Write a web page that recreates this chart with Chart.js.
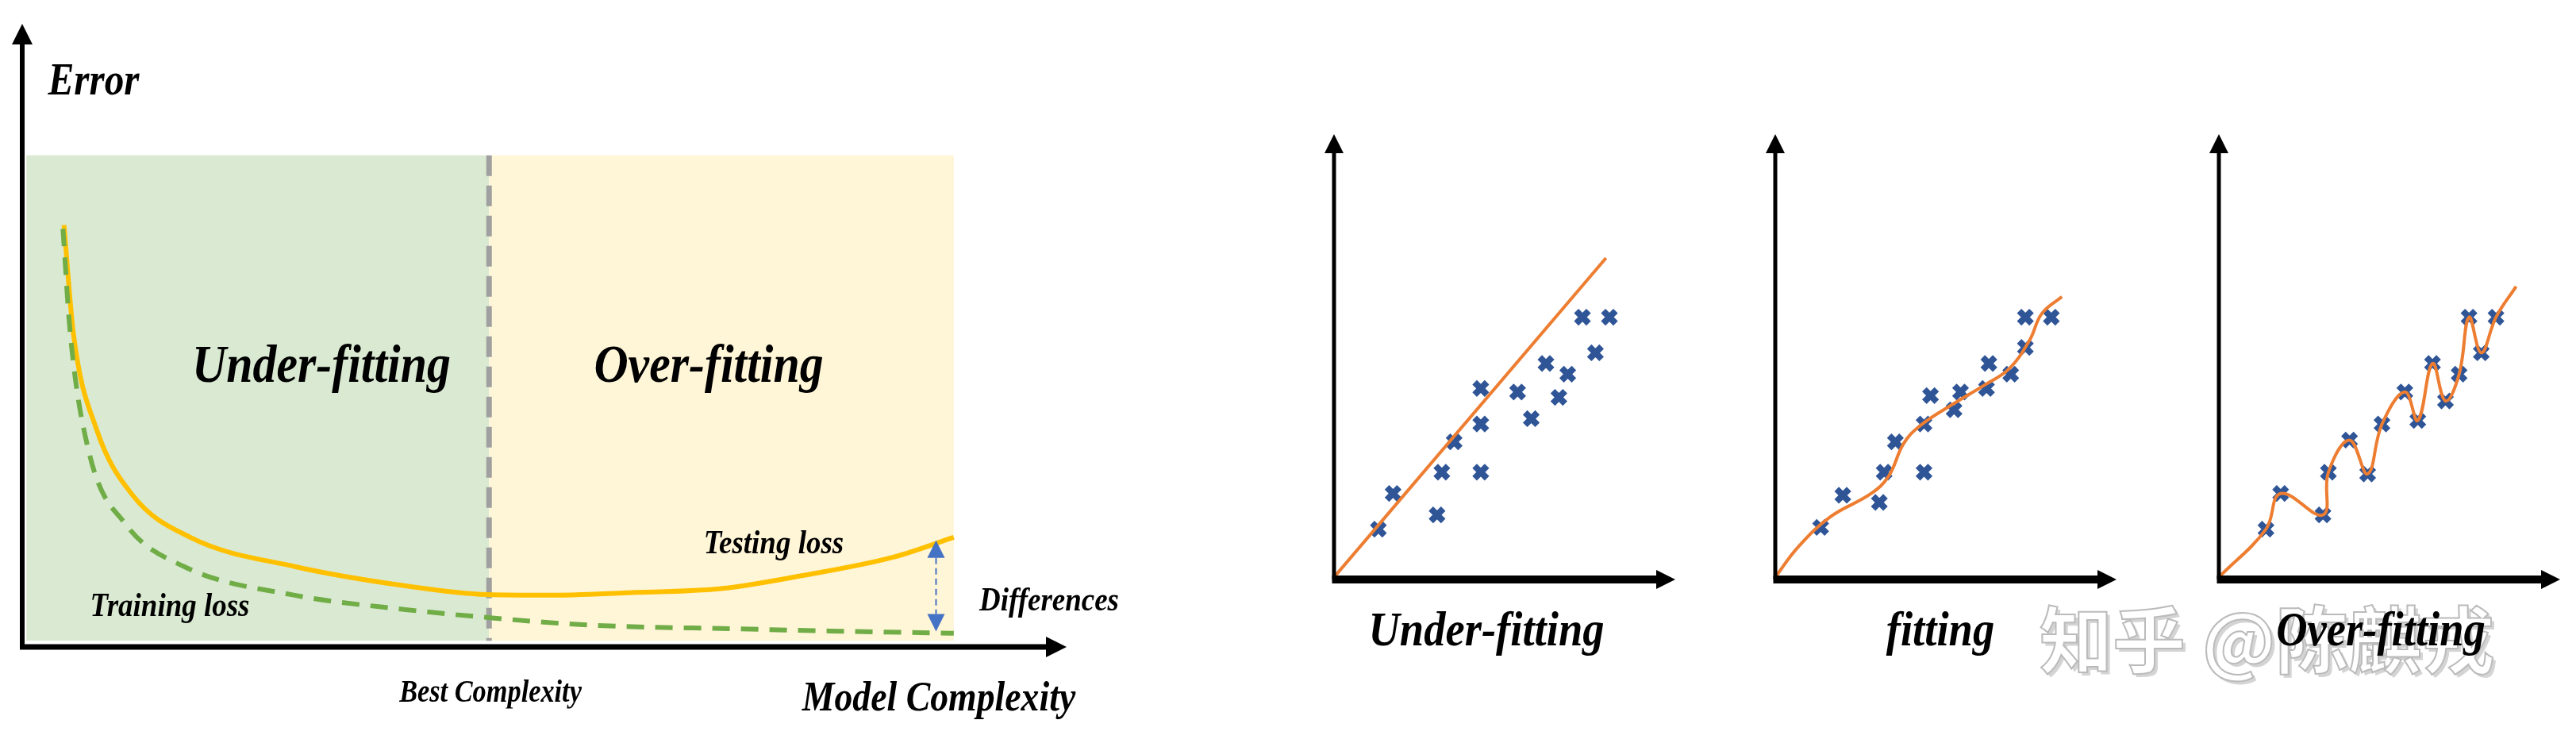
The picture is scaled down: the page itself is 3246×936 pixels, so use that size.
<!DOCTYPE html>
<html>
<head>
<meta charset="utf-8">
<script src="https://cdn.jsdelivr.net/npm/chart.js@4"></script>
<style>
  body { margin: 0; width: 3246px; height: 936px; background: #fff; position: relative; overflow: hidden; font-family: 'Liberation Serif', serif; }
  canvas { position: absolute; }
  .t { position: absolute; font-style: italic; font-weight: bold; color: #000; white-space: nowrap; transform: translate(-50%, -50%) scaleX(0.88); z-index: 2; }
  .wm { position: absolute; font-family: 'Noto Sans CJK SC', sans-serif; font-size: 92px; color: #fff; font-weight: bold;
        -webkit-text-stroke: 2px #bbb; text-shadow: 4px 4px 0 #d4d4d4; white-space: nowrap; transform: translate(0, -50%); z-index: 1; }
</style>
</head>
<body>
<canvas id="main" style="left:0;top:0;width:1400px;height:936px"></canvas>
<canvas id="p1" style="left:1660px;top:150px;width:470px;height:600px"></canvas>
<canvas id="p2" style="left:2216px;top:150px;width:470px;height:600px"></canvas>
<canvas id="p3" style="left:2775px;top:150px;width:470px;height:600px"></canvas>

<div class="wm" style="left:2570px;top:800px">知乎 @陈麒戎</div>
<div class="t" style="left:118px;top:100px;font-size:56px">Error</div>
<div class="t" style="left:405px;top:458px;font-size:68px">Under-fitting</div>
<div class="t" style="left:893px;top:458px;font-size:68px">Over-fitting</div>
<div class="t" style="left:975px;top:683px;font-size:42px">Testing loss</div>
<div class="t" style="left:214px;top:762px;font-size:42px">Training loss</div>
<div class="t" style="left:1322px;top:755px;font-size:42px">Differences</div>
<div class="t" style="left:618px;top:870px;font-size:39px">Best Complexity</div>
<div class="t" style="left:1183px;top:877px;font-size:52px">Model Complexity</div>
<div class="t" style="left:1873px;top:792px;font-size:62px">Under-fitting</div>
<div class="t" style="left:2445px;top:792px;font-size:62px">fitting</div>
<div class="t" style="left:3000px;top:792px;font-size:62px">Over-fitting</div>

<script>
// left chart: error vs model complexity
const testX = [0.40, 0.49, 0.71, 1.06, 1.62, 2.61, 3.67, 4.45, 5.02, 5.79, 6.71, 7.42, 8.34, 8.92];
const testY = [6.77, 5.03, 3.50, 2.43, 1.75, 1.29, 0.98, 0.84, 0.83, 0.87, 0.94, 1.13, 1.44, 1.76];
const trainX = [0.39, 0.46, 0.64, 0.99, 1.55, 2.61, 3.67, 4.47, 5.44, 6.85, 7.91, 8.92];
const trainY = [6.71, 5.03, 3.12, 1.97, 1.29, 0.83, 0.60, 0.47, 0.35, 0.29, 0.25, 0.22];
const underRegion = [0.04, 4.47];
const overRegion = [4.47, 8.92];
const regionY = [0.1, 7.89];
const bestX = 4.47;
const diffX = 8.75;
const diffY = [0.25, 1.71];

// right panels
const p1X = [1.30, 1.73, 3.02, 3.16, 3.52, 4.30, 4.30, 4.30, 5.38, 5.78, 6.21, 6.59, 6.85, 7.28, 7.66, 8.07];
const p1Y = [1.13, 1.93, 1.45, 2.41, 3.09, 2.41, 3.49, 4.29, 4.21, 3.61, 4.85, 4.09, 4.61, 5.89, 5.09, 5.89];
const p1LineX = [0, 7.97];
const p1LineY = [0.05, 7.22];

const p2X = [1.33, 1.98, 3.05, 3.19, 3.52, 4.36, 4.36, 4.55, 5.24, 5.43, 6.19, 6.26, 6.90, 7.33, 7.33, 8.09];
const p2Y = [1.17, 1.89, 1.73, 2.41, 3.09, 2.41, 3.49, 4.13, 3.81, 4.21, 4.29, 4.85, 4.61, 5.21, 5.89, 5.89];
const p2CurveX = [0, 0.67, 1.62, 2.81, 3.33, 3.76, 4.24, 5.19, 6.14, 6.85, 7.45, 7.81, 8.40];
const p2CurveY = [0.05, 0.73, 1.41, 1.93, 2.33, 3.05, 3.45, 3.93, 4.37, 4.73, 5.37, 5.97, 6.35];

const p3X = [1.38, 1.81, 3.05, 3.21, 3.83, 4.36, 4.78, 5.45, 5.83, 6.26, 6.64, 7.04, 7.33, 7.69, 8.12];
const p3Y = [1.13, 1.93, 1.45, 2.41, 3.13, 2.37, 3.49, 4.21, 3.57, 4.85, 4.01, 4.61, 5.89, 5.09, 5.89];
const p3CurveX = [0, ...p3X, 8.71];
const p3CurveY = [0.05, ...p3Y, 6.58];

const pts = (xs, ys) => xs.map((x, i) => ({ x, y: ys[i] }));

function arrowHead(ctx, x, y, dir, size) {
  ctx.beginPath();
  if (dir === 'up') { ctx.moveTo(x, y - size); ctx.lineTo(x - size * 0.5, y); ctx.lineTo(x + size * 0.5, y); }
  else if (dir === 'down') { ctx.moveTo(x, y + size); ctx.lineTo(x - size * 0.5, y); ctx.lineTo(x + size * 0.5, y); }
  else { ctx.moveTo(x + size, y); ctx.lineTo(x, y - size * 0.5); ctx.lineTo(x, y + size * 0.5); }
  ctx.closePath();
  ctx.fill();
}

const axesPlugin = {
  id: 'axes',
  afterDraw(chart, args, opts) {
    const { ctx, chartArea: a } = chart;
    ctx.save();
    ctx.strokeStyle = '#000'; ctx.fillStyle = '#000';
    ctx.lineWidth = opts.yw;
    ctx.beginPath(); ctx.moveTo(a.left, a.bottom); ctx.lineTo(a.left, a.top + opts.head); ctx.stroke();
    arrowHead(ctx, a.left, a.top + opts.head, 'up', opts.head);
    ctx.lineWidth = opts.xw;
    ctx.beginPath(); ctx.moveTo(a.left - opts.yw / 2, a.bottom); ctx.lineTo(a.right - opts.head, a.bottom); ctx.stroke();
    arrowHead(ctx, a.right - opts.head, a.bottom, 'right', opts.head);
    ctx.restore();
  }
};

const regionPlugin = {
  id: 'regions',
  beforeDatasetsDraw(chart) {
    const { ctx, scales: { x, y } } = chart;
    ctx.save();
    const top = y.getPixelForValue(regionY[1]), bot = y.getPixelForValue(regionY[0]);
    ctx.fillStyle = '#DAE9D2';
    ctx.fillRect(x.getPixelForValue(underRegion[0]), top, x.getPixelForValue(underRegion[1]) - x.getPixelForValue(underRegion[0]), bot - top);
    ctx.fillStyle = '#FFF5D7';
    ctx.fillRect(x.getPixelForValue(overRegion[0]), top, x.getPixelForValue(overRegion[1]) - x.getPixelForValue(overRegion[0]), bot - top);
    // best complexity divider
    ctx.strokeStyle = '#A0A0A0'; ctx.lineWidth = 7; ctx.setLineDash([26, 12]);
    ctx.beginPath(); ctx.moveTo(x.getPixelForValue(bestX), top); ctx.lineTo(x.getPixelForValue(bestX), bot); ctx.stroke();
    ctx.restore();
  },
  afterDatasetsDraw(chart) {
    const { ctx, scales: { x, y } } = chart;
    const px = x.getPixelForValue(diffX);
    const y0 = y.getPixelForValue(diffY[0]), y1 = y.getPixelForValue(diffY[1]);
    ctx.save();
    ctx.strokeStyle = '#4472C4'; ctx.fillStyle = '#4472C4'; ctx.lineWidth = 2; ctx.setLineDash([8, 5]);
    ctx.beginPath(); ctx.moveTo(px, y1 + 22); ctx.lineTo(px, y0 - 22); ctx.stroke();
    arrowHead(ctx, px, y1 + 22, 'up', 22);
    arrowHead(ctx, px, y0 - 22, 'down', 22);
    ctx.restore();
  }
};

const hiddenScales = (xmax, ymax) => ({
  x: { type: 'linear', min: 0, max: xmax, display: false },
  y: { type: 'linear', min: 0, max: ymax, display: false }
});

const baseOpts = {
  responsive: false, animation: false, events: [],
  plugins: { legend: { display: false }, tooltip: { enabled: false } }
};

function sizeCanvas(id) {
  const c = document.getElementById(id);
  c.width = parseInt(c.style.width); c.height = parseInt(c.style.height);
  return c;
}

new Chart(sizeCanvas('main'), {
  type: 'scatter',
  data: { datasets: [
    { data: pts(trainX, trainY), showLine: true, borderColor: '#70AD47', borderWidth: 6, borderDash: [22, 14], pointRadius: 0, cubicInterpolationMode: 'monotone' },
    { data: pts(testX, testY), showLine: true, borderColor: '#FFC000', borderWidth: 6, pointRadius: 0, cubicInterpolationMode: 'monotone' }
  ]},
  options: { ...baseOpts, layout: { padding: { left: 28, top: 30, right: 56, bottom: 121 } }, scales: hiddenScales(10, 10),
    plugins: { ...baseOpts.plugins, axes: { xw: 7, yw: 6, head: 26 } } },
  plugins: [regionPlugin, axesPlugin]
});

function panel(id, sx, sy, lx, ly, smooth) {
  new Chart(sizeCanvas(id), {
    type: 'scatter',
    data: { datasets: [
      { data: pts(lx, ly), showLine: true, borderColor: '#ED7D31', borderWidth: 4, pointRadius: 0, tension: smooth ? 0.4 : 0 },
      { data: pts(sx, sy), pointStyle: 'crossRot', pointRadius: 11, borderWidth: 8, borderColor: '#2F5597', backgroundColor: '#2F5597' }
    ]},
    options: { ...baseOpts, layout: { padding: { left: 21, top: 18, right: 18, bottom: 20 } }, scales: hiddenScales(10, 10),
      plugins: { ...baseOpts.plugins, axes: { xw: 10, yw: 5, head: 24 } } },
    plugins: [axesPlugin]
  });
}

panel('p1', p1X, p1Y, p1LineX, p1LineY, false);
panel('p2', p2X, p2Y, p2CurveX, p2CurveY, true);
panel('p3', p3X, p3Y, p3CurveX, p3CurveY, true);
</script>
</body>
</html>
